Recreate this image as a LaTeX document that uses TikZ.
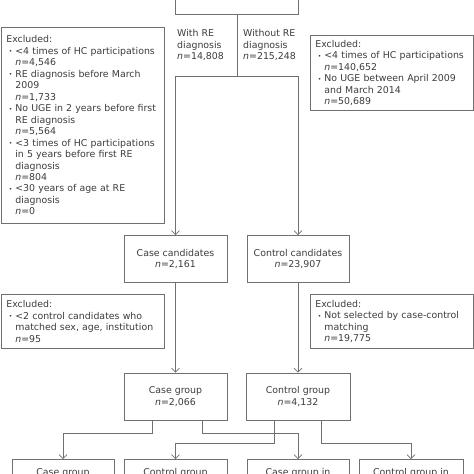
\documentclass[tikz,border=0pt]{standalone}
\usepackage{fontspec}
\setmainfont{DejaVu Sans}
\usetikzlibrary{positioning, arrows.meta}
\definecolor{linegray}{HTML}{707070}
\definecolor{textgray}{HTML}{3C3C3C}
\newcommand{\exitem}{\par\hangindent=9pt\hangafter=1\noindent\makebox[9pt][l]{\hspace{2.5pt}\raisebox{0.6pt}{\fontsize{6}{6}\selectfont\textbullet}}}
\newcommand{\nn}{\textit{n}}

\begin{document}
\begin{tikzpicture}[x=1pt, y=-1pt, font=\fontsize{9.4}{11.47}\selectfont,
  line/.style={draw=linegray, line width=0.7pt},
  arr/.style={line, -{Straight Barb[length=4pt, width=8pt]}},
  box/.style={line, text=textgray, align=center, inner sep=3pt, minimum height=47pt},
  bot/.style={box, anchor=north, text height=13.5pt, text depth=33pt},
  exbox/.style={line, text=textgray, align=left, anchor=north west, inner xsep=5pt, inner ysep=0pt, text width=153pt},
  lbl/.style={text=textgray, align=left, anchor=north west, inner sep=0pt}]
  \useasboundingbox (0,0) rectangle (474,474);
  \clip (0,0) rectangle (474,474);

  % main column
  \node[box, minimum width=123pt, minimum height=50pt] (total) at (237,-11) {};
  \coordinate (split) at (237,76);
  \node[lbl] (withre) at (177,29.5) {With RE\\diagnosis\\\nn=14,808};
  \node[lbl] (withoutre) at (243,29.5) {Without RE\\diagnosis\\\nn=215,248};
  \node[box, minimum width=103pt] (casecand) at (175.5,259) {Case candidates\\\nn=2,161};
  \node[box, minimum width=102pt] (ctrlcand) at (298,259) {Control candidates\\\nn=23,907};
  \node[box, minimum width=103pt] (casegrp) at (175.5,396.5) {Case group\\\nn=2,066};
  \node[box, minimum width=104pt] (ctrlgrp) at (298,396.5) {Control group\\\nn=4,132};

  % exclusions
  \node[exbox, minimum height=196pt] (exleft) at (1,27) {Excluded:
    \exitem <4 times of HC participations\newline\nn=4,546
    \exitem RE diagnosis before March\newline 2009\newline\nn=1,733
    \exitem No UGE in 2 years before first\newline RE diagnosis\newline\nn=5,564
    \exitem <3 times of HC participations\newline in 5 years before first RE\newline diagnosis\newline\nn=804
    \exitem <30 years of age at RE\newline diagnosis\newline\nn=0\par};
  \node[exbox, minimum height=75pt] (exright) at (310,35) {Excluded:
    \exitem <4 times of HC participations\newline\nn=140,652
    \exitem No UGE between April 2009\newline and March 2014\newline\nn=50,689\par};
  \node[exbox, minimum height=54pt] (exmatch) at (1,294) {Excluded:
    \exitem <2 control candidates who\newline matched sex, age, institution\newline\nn=95\par};
  \node[exbox, minimum height=54pt] (exnotsel) at (310,294) {Excluded:
    \exitem Not selected by case-control\newline matching\newline\nn=19,775\par};

  % bottom row
  \node[bot, minimum width=102pt] (casebase) at (63,459) {Case group};
  \node[bot, minimum width=103pt] (ctrlbase) at (175.5,459) {Control group};
  \node[bot, minimum width=102pt] (casein) at (298,459) {Case group in};
  \node[bot, minimum width=104pt] (ctrlin) at (411,459) {Control group in};

  \draw[line] (total) -- (split);
  \draw[arr] (split) -| (casecand);
  \draw[arr] (split) -| (ctrlcand);
  \draw[arr] (casecand) -- (casegrp);
  \draw[arr] (ctrlcand) -- (ctrlgrp);
  \draw[arr] ([xshift=-23.5pt]casegrp.south) -- ++(0,13) -| (casebase);
  \draw[arr] ([xshift=26.5pt]casegrp.south) -- ++(0,13) -| (casein);
  \draw[arr] ([xshift=-24pt]ctrlgrp.south) -- ++(0,23) -| (ctrlbase);
  \draw[arr] ([xshift=23pt]ctrlgrp.south) -- ++(0,23) -| (ctrlin);
\end{tikzpicture}
\end{document}
